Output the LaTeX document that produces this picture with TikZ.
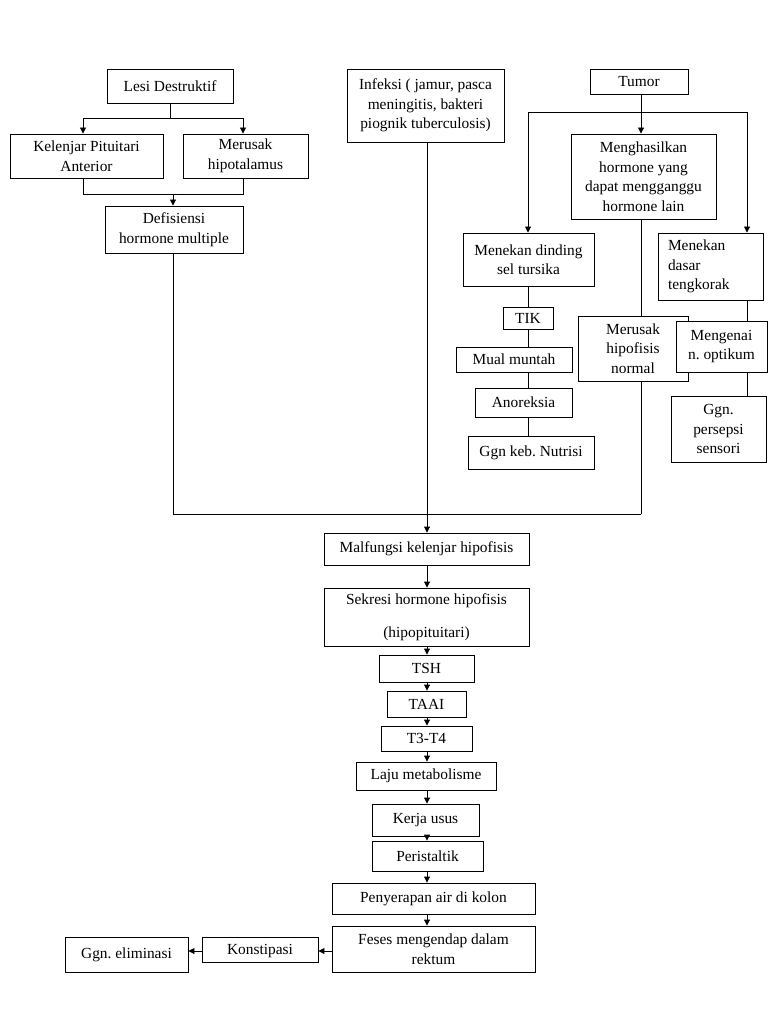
\documentclass[tikz,border=0pt]{standalone}
\usepackage{fontspec}
\setmainfont{Liberation Serif}
\frenchspacing
\usetikzlibrary{arrows.meta}
\tikzset{
  bx/.style={draw, line width=0.9pt, fill=white, inner sep=0pt, align=center,
    font=\fontsize{15.4}{19.5}\selectfont\frenchspacing},
  ln/.style={line width=0.9pt},
  arr/.style={line width=0.9pt, -{Triangle[length=6pt,width=6pt]}}
}
\begin{document}
\begin{tikzpicture}[x=1pt,y=-1pt]
\useasboundingbox (0,0) rectangle (768,1024);
% boxes
\node[bx, minimum width=126, minimum height=34] (lesi) at (170,86) {Lesi Destruktif};
\node[bx, minimum width=153, minimum height=44] (kel) at (86.5,156) {Kelenjar Pituitari\\Anterior};
\node[bx, minimum width=125, minimum height=44] (mer) at (245.5,156) {Merusak\\hipotalamus};
\node[bx, minimum width=138, minimum height=47] (def) at (174,229.5) {Defisiensi\\hormone multiple};
\node[bx, minimum width=157, minimum height=73] (inf) at (425.5,105.5) {Infeksi ( jamur, pasca\\meningitis, bakteri\\piognik tuberculosis)};
\node[bx, minimum width=98, minimum height=25] (tumor) at (639,81.5) {Tumor};
\node[bx, minimum width=145, minimum height=85] (meng) at (643.5,176.5) {Menghasilkan\\hormone yang\\dapat mengganggu\\hormone lain};
\node[bx, minimum width=131, minimum height=53] (mdin) at (528.5,259.5) {Menekan dinding\\sel tursika};
\node[bx, minimum height=67, text width=85, inner xsep=10pt, align=left] (mdas) at (710.5,266.5) {Menekan\\dasar\\tengkorak};
\node[bx, minimum width=50, minimum height=22] (tik) at (528,318) {TIK};
\node[bx, minimum width=116, minimum height=25] (mual) at (514,359.5) {Mual muntah};
\node[bx, minimum width=97, minimum height=29] (anor) at (523.5,402.5) {Anoreksia};
\node[bx, minimum width=126, minimum height=33] (ggnk) at (531,452.5) {Ggn keb. Nutrisi};
\node[bx, minimum width=110, minimum height=65] (meh) at (633,348.5) {Merusak\\hipofisis\\normal};
\node[bx, minimum width=91, minimum height=51] (meo) at (721.5,346.5) {Mengenai\\n. optikum};
\node[bx, minimum width=95, minimum height=66] (ggnp) at (718.5,429) {Ggn.\\persepsi\\sensori};
\node[bx, minimum width=205, minimum height=32] (malf) at (426.5,549) {Malfungsi kelenjar hipofisis};
\node[bx, minimum width=205, minimum height=58] (sek) at (426.5,617) {Sekresi hormone hipofisis\\[14pt](hipopituitari)};
\node[bx, minimum width=95, minimum height=27] (tsh) at (426.5,668.5) {TSH};
\node[bx, minimum width=79, minimum height=26] (taai) at (426.5,704) {TAAI};
\node[bx, minimum width=91, minimum height=25] (t34) at (426.5,738.5) {T3-T4};
\node[bx, minimum width=140, minimum height=28] (laju) at (426,776) {Laju metabolisme};
\node[bx, minimum width=107, minimum height=32] (kerja) at (425.5,820) {Kerja usus};
\node[bx, minimum width=111, minimum height=30] (peri) at (427.5,856) {Peristaltik};
\node[bx, minimum width=203, minimum height=31] (peny) at (433.5,898.5) {Penyerapan air di kolon};
\node[bx, minimum width=203, minimum height=46] (feses) at (433.5,949) {Feses mengendap dalam\\rektum};
\node[bx, minimum width=116, minimum height=25, text depth=0pt] (kons) at (260,949.5) {Konstipasi};
\node[bx, minimum width=123, minimum height=35] (ggne) at (126.5,954.5) {Ggn. eliminasi};
% junction coordinates
\coordinate (lL) at (83,118);
\coordinate (lR) at (243,118);
\coordinate (lM) at (170,118);
\coordinate (dL) at (83,194);
\coordinate (dR) at (243,194);
\coordinate (dM) at (173,194);
\coordinate (bL) at (173,514);
\coordinate (bR) at (641,514);
\coordinate (tL) at (528,112);
\coordinate (tR) at (747,112);
\coordinate (tM) at (641,112);
\coordinate (cx) at (427,0);
% top left
\draw[ln] (lesi.south) -- (lM);
\draw[ln] (lL) -- (lR);
\draw[arr] (lL) -- (lL |- kel.north);
\draw[arr] (lR) -- (lR |- mer.north);
\draw[ln] (dL |- kel.south) -- (dL) -- (dR) -- (dR |- mer.south);
\draw[arr] (dM) -- (dM |- def.north);
\draw[ln] (bL |- def.south) -- (bL) -- (bR);
% infeksi
\draw[arr] (inf.south -| cx) -- (malf.north -| cx);
% tumor
\draw[ln] (tM |- tumor.south) -- (tM);
\draw[ln] (tL) -- (tR);
\draw[arr] (tM) -- (tM |- meng.north);
\draw[arr] (tL) -- (tL |- mdin.north);
\draw[arr] (tR) -- (tR |- mdas.north);
\draw[ln] (tM |- meng.south) -- (tM |- meh.north);
\draw[ln] (tM |- meh.south) -- (bR);
\draw[ln] (tL |- mdin.south) -- (tL |- tik.north);
\draw[ln] (tL |- tik.south) -- (tL |- mual.north);
\draw[ln] (tL |- mual.south) -- (tL |- anor.north);
\draw[ln] (tL |- anor.south) -- (tL |- ggnk.north);
\draw[ln] (tR |- mdas.south) -- (tR |- meo.north);
\draw[ln] (tR |- meo.south) -- (tR |- ggnp.north);
% lower chain
\draw[arr] (malf.south -| cx) -- (sek.north -| cx);
\draw[arr] (sek.south -| cx) -- (tsh.north -| cx);
\draw[arr] (tsh.south -| cx) -- (taai.north -| cx);
\draw[arr] (taai.south -| cx) -- (t34.north -| cx);
\draw[arr] (t34.south -| cx) -- (laju.north -| cx);
\draw[arr] (laju.south -| cx) -- (kerja.north -| cx);
\draw[arr] (kerja.south -| cx) -- (peri.north -| cx);
\draw[arr] (peri.south -| cx) -- (peny.north -| cx);
\draw[arr] (peny.south -| cx) -- (feses.north -| cx);
\draw[arr] (feses.west |- 0,951) -- (kons.east |- 0,951);
\draw[arr] (kons.west |- 0,951) -- (ggne.east |- 0,951);
\end{tikzpicture}
\end{document}
